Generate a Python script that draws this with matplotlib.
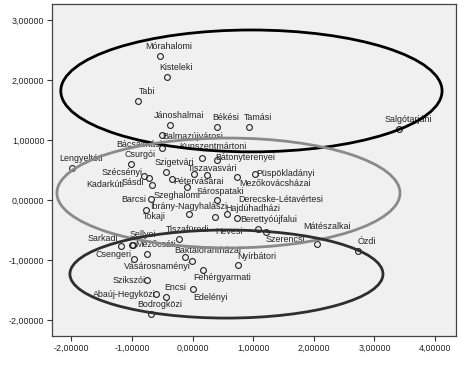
import matplotlib
matplotlib.use("Agg")
import matplotlib.pyplot as plt
from matplotlib.patches import Ellipse
from matplotlib.ticker import FuncFormatter

matplotlib.rcParams['font.family'] = ['Liberation Sans', 'DejaVu Sans']
matplotlib.rcParams['font.size'] = 6.4

# district names and coordinates
names = ['Mórahalomi', 'Kisteleki', 'Tabi', 'Jánoshalmai', 'Békési', 'Tamási',
         'Salgótarjáni', 'Balmazújvárosi', 'Bácsalmási', 'Kunszentmártoni',
         'Lengyeltóti', 'Csurgói', 'Bátonyterenyei', 'Szigetvári', 'Tiszavasvári',
         '', 'Szécsényi', 'Kadarkúti', 'Sásdi', 'Pétervásárai', 'Püspökladányi',
         'Mezőkovácsházai', 'Szeghalomi', 'Barcsi', 'Sárospataki', 'Tokaji',
         'Ibrány-Nagyhalászi', 'Derecske-Létavértesi', 'Hajdúhadházi',
         'Berettyóújfalui', 'Tiszafüredi', 'Hevesi', 'Szerencsi', 'Mátészalkai',
         'Ózdi', 'Sarkadi', 'Sellyei', 'Mezőcsáti', 'Csengeri', 'Vásárosnaményi',
         'Baktalórántházai', '', 'Nyírbátori', 'Fehérgyarmati', 'Szikszói',
         'Abaúj-Hegyközi', 'Encsi', 'Edelényi', 'Bodrogközi']
x_vals = [-0.540, -0.424, -0.908, -0.375, 0.401, 0.929,
          3.404, -0.512, -0.512, 0.158,
          -1.987, -1.018, 0.396, -0.446, 0.241,
          0.026, -0.799, -0.716, -0.663, -0.347, 1.028,
          0.736, -0.089, -0.693, 0.406, -0.776,
          -0.061, 0.368, 0.561,
          0.726, -0.226, 1.083, 1.210, 2.056,
          2.723, -1.183, -1.002, -0.977, -0.969, -0.746,
          -0.127, -0.017, 0.748, 0.175, -0.746,
          -0.606, -0.441, 0.000, -0.693]
y_vals = [2.405, 2.060, 1.660, 1.260, 1.222, 1.222,
          1.183, 1.083, 0.867, 0.713,
          0.543, 0.610, 0.672, 0.467, 0.427,
          0.438, 0.410, 0.377, 0.247, 0.350, 0.438,
          0.393, 0.227, 0.017, 0.010, -0.162,
          -0.228, -0.283, -0.228,
          -0.300, -0.645, -0.478, -0.523, -0.728,
          -0.840, -0.762, -0.745, -0.737, -0.970, -0.895,
          -0.940, -1.007, -1.070, -1.162, -1.323,
          -1.562, -1.607, -1.483, -1.898]

# group ellipses: centre x, centre y, width, height
ell_cx = [0.970, 0.591, 0.558]
ell_cy = [1.822, 0.122, -1.228]
ell_w = [6.29, 5.66, 5.165]
ell_h = [2.03, 1.83, 1.467]
ell_colors = ['#000000', '#8a8a8a', '#2e2e2e']

# label placement in pixels (dx right, dy up), default above-right
default_off = (9, 9.5)
label_off = {
    'Balmazújvárosi': (30.8, -1.4), 'Bácsalmási': (-22.7, 3.3),
    'Kunszentmártoni': (11, 10.8), 'Bátonyterenyei': (29, 2.7),
    'Tiszavasvári': (5.2, 5.7), 'Szécsényi': (-22.6, 3),
    'Kadarkúti': (-44, -7.3), 'Sásdi': (-20, 2.8),
    'Pétervásárai': (26.8, -2.4), 'Püspökladányi': (30, 0.3),
    'Mezőkovácsházai': (38, -6.6), 'Szeghalomi': (-10.6, -9),
    'Barcsi': (-16.7, -0.7), 'Sárospataki': (3.2, 8),
    'Tokaji': (8.8, -6.7), 'Ibrány-Nagyhalászi': (0, 8),
    'Derecske-Létavértesi': (66, 18.3), 'Hajdúhadházi': (26.3, 6),
    'Berettyóújfalui': (31.6, -0.7), 'Hevesi': (-29.3, -2.7),
    'Szerencsi': (19, -7.6), 'Mátészalkai': (9.7, 17.3),
    'Sarkadi': (-17.7, 7.3), 'Sellyei': (11, 10.5),
    'Mezőcsáti': (22, 0.5), 'Csengeri': (-20.3, 4.5),
    'Vásárosnaményi': (10, -12.7), 'Baktalórántházai': (23, 6.7),
    'Nyírbátori': (19, 8.5), 'Fehérgyarmati': (19.2, -7.3),
    'Szikszói': (-18.8, -0.3), 'Abaúj-Hegyközi': (-31.7, -0.3),
    'Edelényi': (17.6, -8.4),
}

fig = plt.figure(figsize=(4.74, 3.74), dpi=100)
ax = fig.add_axes([52 / 474, 1 - 336 / 374, (455.7 - 52) / 474, (336 - 4) / 374])
ax.set_facecolor('#f0f0f0')

ax.plot(x_vals, y_vals, linestyle='none', marker='o', markersize=4.2,
        markerfacecolor='none', markeredgecolor='#222222', markeredgewidth=0.8,
        zorder=3)

for name, xv, yv in zip(names, x_vals, y_vals):
    if not name:
        continue
    dx, dy = label_off.get(name, default_off)
    ax.annotate(name, (xv, yv), xytext=(dx, dy), textcoords='offset pixels',
                ha='center', va='center', color='#222222', zorder=2)

for cx, cy, w, h, c in zip(ell_cx, ell_cy, ell_w, ell_h, ell_colors):
    ax.add_patch(Ellipse((cx, cy), w, h, fill=False, edgecolor=c,
                         linewidth=2.0, zorder=4))

ax.set_xlim(-2.32, 4.34)
ax.set_ylim(-2.26, 3.27)
ax.set_xticks([-2, -1, 0, 1, 2, 3, 4])
ax.set_yticks([-2, -1, 0, 1, 2, 3])
fmt = FuncFormatter(lambda v, p: ('%.5f' % v).replace('.', ','))
ax.xaxis.set_major_formatter(fmt)
ax.yaxis.set_major_formatter(fmt)
ax.tick_params(direction='out', length=3.5, width=0.8, color='#333333',
               labelsize=6.4, labelcolor='#222222', pad=2)

for s in ax.spines.values():
    s.set_color('#444444')
    s.set_linewidth(0.9)

fig.savefig('out.png', dpi=100, facecolor='white')
